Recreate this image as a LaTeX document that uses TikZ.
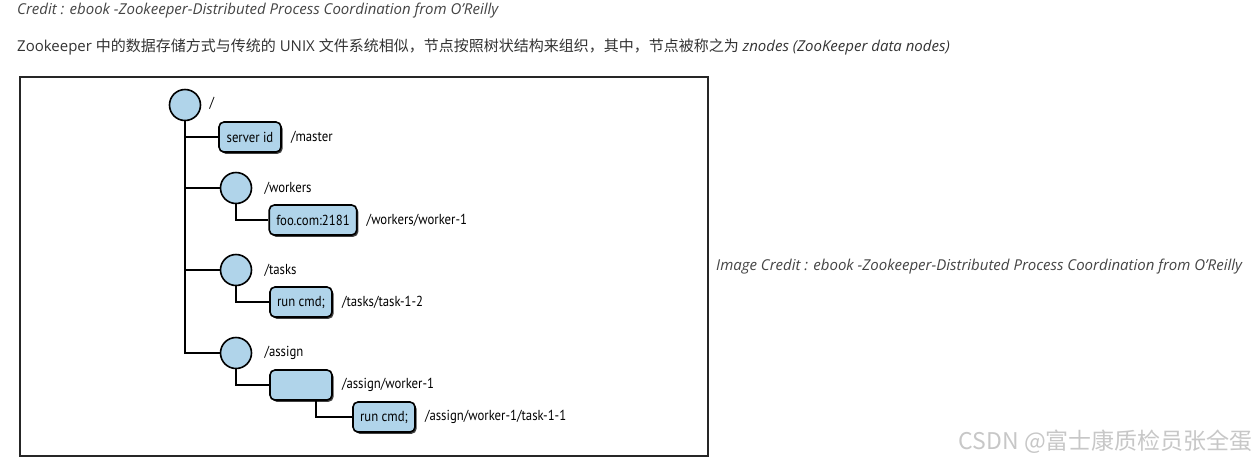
\documentclass[tikz,border=0pt]{standalone}
\usepackage{fontspec}
\setmainfont{Open Sans}
\newfontfamily\cjk{Noto Sans CJK SC}
\newfontfamily\treefont[FakeStretch=0.88]{PT Sans}
\usepackage{tikz}
\usetikzlibrary{positioning,shadows}

\definecolor{znodeblue}{HTML}{B0D4EA}
\definecolor{pagetext}{HTML}{333333}
\definecolor{credittext}{HTML}{444444}

\begin{document}
\begin{tikzpicture}[
    x=1pt, y=-1pt,
    node distance=9pt,
    znode/.style={
        draw,
        circle,
        line width=1.6pt,
        fill=znodeblue,
        minimum size=31pt,
        inner sep=0pt
    },
    databox/.style={
        draw,
        rounded corners=5pt,
        line width=1.6pt,
        fill=znodeblue,
        minimum width=62pt,
        minimum height=30pt,
        inner xsep=7pt,
        font=\treefont\fontsize{14.5}{16}\selectfont,
        drop shadow={shadow xshift=1.6pt, shadow yshift=-1.8pt, fill=black!75, opacity=1}
    },
    pathlbl/.style={
        inner sep=0pt,
        font=\treefont\fontsize{14.5}{16}\selectfont
    },
    pageline/.style={
        anchor=west,
        inner sep=0pt,
        text=pagetext,
        font=\fontsize{15}{18}\selectfont
    },
    credit/.style={
        pageline,
        text=credittext,
        font=\itshape\fontsize{15}{18}\selectfont
    },
    link/.style={line width=1.6pt}
]

\useasboundingbox (0,0) rectangle (1258,467);

% page text
\node[credit] (credit) at (17,11) {Credit : ebook -Zookeeper-Distributed Process Coordination from O’Reilly};
\node[pageline] (intro) at (17,47) {Zookeeper {\cjk 中的数据存储方式与传统的} UNIX {\cjk 文件系统相似，节点按照树状结构来组织，其中，节点被称之为} \textit{znodes (ZooKeeper data nodes)}};
\node[credit] (sidecredit) at (716,267) {Image Credit : ebook -Zookeeper-Distributed Process Coordination from O’Reilly};
\node[anchor=east, inner sep=0pt, text=black!22, font=\cjk\fontsize{23}{26}\selectfont] (mark) at (1253,442) {CSDN @富士康质检员张全蛋};

% image frame
\draw[line width=1.2pt, black!85] (20,77) rectangle (708,456);

% znodes
\node[znode] (root) at (185,105) {};
\node[databox] (master) at (250,137) {server id};
\node[znode] (workers) at (236,188) {};
\node[databox] (worker1) at (313,220) {foo.com:2181};
\node[znode] (tasks) at (236,270) {};
\node[databox] (task12) at (301,302) {run cmd;};
\node[znode] (assign) at (236,353) {};
\node[databox] (assignw) at (301,385) {};
\node[databox] (task11) at (384,417) {run cmd;};

% paths
\node[pathlbl, right=8pt of root, yshift=2pt] (rootlbl) {/};
\node[pathlbl, right=of master] (masterlbl) {/master};
\node[pathlbl, right=12pt of workers] (workerslbl) {/workers};
\node[pathlbl, right=of worker1] (worker1lbl) {/workers/worker-1};
\node[pathlbl, right=12pt of tasks] (taskslbl) {/tasks};
\node[pathlbl, right=of task12] (task12lbl) {/tasks/task-1-2};
\node[pathlbl, right=12pt of assign] (assignlbl) {/assign};
\node[pathlbl, right=of assignw] (assignwlbl) {/assign/worker-1};
\node[pathlbl, right=of task11] (task11lbl) {/assign/worker-1/task-1-1};

% tree links
\draw[link] (root.south) |- (master.west);
\draw[link] (root.south) |- (workers.west);
\draw[link] (root.south) |- (tasks.west);
\draw[link] (root.south) |- (assign.west);
\draw[link] (workers.south) |- (worker1.west);
\draw[link] (tasks.south) |- (task12.west);
\draw[link] (assign.south) |- (assignw.west);
\draw[link] ([xshift=15pt]assignw.south) |- (task11.west);

\end{tikzpicture}
\end{document}
